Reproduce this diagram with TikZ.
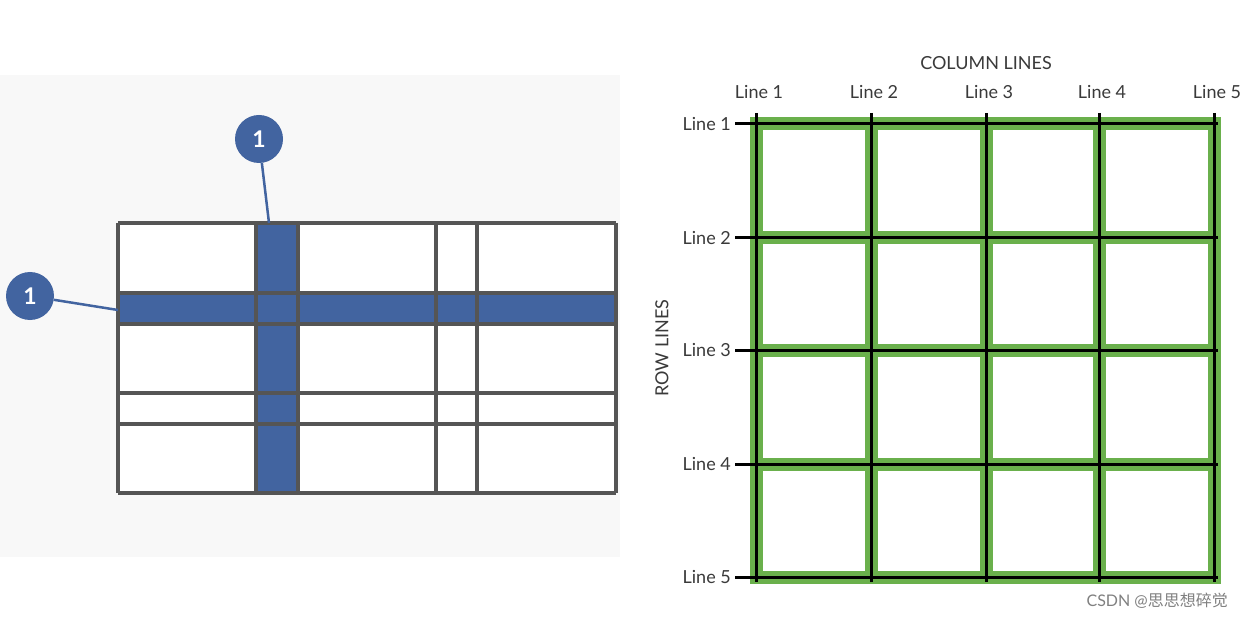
\documentclass[tikz,border=0pt]{standalone}
\usepackage{fontspec}
\setmainfont{Lato}
\newfontfamily\cjk{Noto Sans CJK SC}
\definecolor{bgL}{HTML}{F8F8F8}
\definecolor{gridc}{HTML}{555555}
\definecolor{blu}{HTML}{4264A0}
\definecolor{grn}{HTML}{6AB04C}
\definecolor{txt}{HTML}{3A3A3A}
\begin{document}
\begin{tikzpicture}[x=1pt,y=-1pt,
  gline/.style={gridc,line width=4pt},
  badge/.style={circle,fill=blu,minimum size=48pt,inner sep=0pt,text=white,font=\fontsize{23}{23}\selectfont\bfseries},
  lab/.style={text=txt,font=\fontsize{18}{18}\selectfont,inner sep=0pt}]
\useasboundingbox (0,0) rectangle (1242,620);
\fill[white] (0,0) rectangle (1242,620);
% left panel
\fill[bgL] (0,75) rectangle (620,557);
\fill[white] (118,223) rectangle (616,493);
\fill[blu] (256,223) rectangle (298,493);
\fill[blu] (118,293) rectangle (616,324);
\foreach \x in {118,256,298,436,477,616} \draw[gline] (\x,223) -- (\x,493);
\foreach \y in {223,293,324,393,424,493} \draw[gline] (118,\y) -- (616,\y);
\node[badge] (b1) at (259,139) {1};
\node[badge] (b2) at (30,296) {1};
\coordinate (t1) at (269,223);
\coordinate (t2) at (118,310);
\draw[blu,line width=2.5pt] (b1) -- (t1);
\draw[blu,line width=2.5pt] (b2) -- (t2);
% right panel
\foreach \x in {756,871,986,1099,1214} \draw[grn,line width=13pt] (\x,124) -- (\x,577);
\foreach \y in {124,238,350,464,577} \draw[grn,line width=13pt] (756,\y) -- (1214,\y);
\draw[grn,line width=13pt] (756,124) rectangle (1214,577);
\foreach \x/\n in {756/1,871/2,986/3,1099/4,1214/5}{
  \draw[black,line width=3pt] (\x,113) -- (\x,582);
  \node[lab,anchor=base] (c\n) at (\x+3,99) {Line \n};}
\foreach \y/\n in {124/1,238/2,350/3,464/4,577/5}{
  \draw[black,line width=3pt] (735,\y) -- (1218,\y);
  \node[lab,anchor=east] (r\n) at (731,\y) {Line \n};}
\node[lab,anchor=base] (cl) at (986,70) {COLUMN LINES};
\node[lab,rotate=90] (rl) at (662,348) {ROW LINES};
\node[anchor=east,inner sep=0pt,text=gray,font=\fontsize{16}{16}\selectfont] (wm) at (1228,601) {CSDN @{\cjk 思思想碎觉}};
\end{tikzpicture}
\end{document}
